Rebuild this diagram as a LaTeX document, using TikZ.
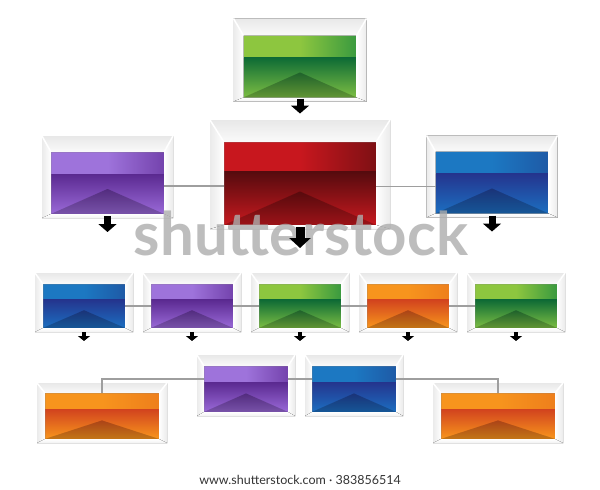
\documentclass[tikz,border=0pt]{standalone}
\usepackage{fontspec}
\newfontfamily\lato{Lato}
\usetikzlibrary{calc,arrows.meta}

\definecolor{grnL}{HTML}{8DC63F}\definecolor{grnR}{HTML}{3A9A3F}
\definecolor{grnT}{HTML}{0E6B35}\definecolor{grnB}{HTML}{7DBE43}
\definecolor{purL}{HTML}{9E73DB}\definecolor{purR}{HTML}{7443AD}
\definecolor{purT}{HTML}{5B2A91}\definecolor{purB}{HTML}{9A6AD8}
\definecolor{redL}{HTML}{C8171E}\definecolor{redR}{HTML}{7E1014}
\definecolor{redT}{HTML}{560B0E}\definecolor{redB}{HTML}{C7191F}
\definecolor{bluL}{HTML}{1C78C2}\definecolor{bluR}{HTML}{1E5AA6}
\definecolor{bluT}{HTML}{24358E}\definecolor{bluB}{HTML}{1C6FC1}
\definecolor{orgL}{HTML}{F7941D}\definecolor{orgR}{HTML}{EE7F1C}
\definecolor{orgT}{HTML}{D2441E}\definecolor{orgB}{HTML}{F8961D}

\begin{document}
\begin{tikzpicture}[x=1pt, y=-1pt,
    panel/.style={inner sep=0pt, outer sep=0pt, path picture={
      \coordinate (pa) at (path picture bounding box.north west);
      \coordinate (pb) at (path picture bounding box.south east);
      \coordinate (pm) at ($(pa|-pb)!.64!(pa)$);
      \coordinate (pc) at ($(pm)!.5!(pb)$);
      \coordinate (pt) at ($(pm-|pc)!.37!(pc|-pb)$);
      \fill[left color=#1L, right color=#1R, middle color=#1L] (pa) rectangle (pm-|pb);
      \fill[top color=#1T, bottom color=#1B] (pm) rectangle (pb);
      \fill[top color=#1T, bottom color=#1B, opacity=.3] (pa|-pb) -- (pt) -- (pb) -- cycle;
    }},
    big/.style={minimum width=152pt, minimum height=83pt},
    wide/.style={minimum width=113pt, minimum height=62pt},
    small/.style={minimum width=82pt, minimum height=44pt},
    flat/.style={minimum width=114pt, minimum height=46pt},
    tile/.style={minimum width=84pt, minimum height=46pt},
    link/.style={draw=black!38, line width=1.2pt},
    arr/.style={draw=black, line width=7pt, -{Triangle[length=8pt,width=18pt]}},
    arrbig/.style={draw=black, line width=9pt, -{Triangle[length=10pt,width=21pt]}},
    arrsmall/.style={draw=black, line width=4.5pt, -{Triangle[length=5pt,width=12pt]}}
    ]

    \useasboundingbox (0,0) rectangle (600,490);
    \fill[white] (0,0) rectangle (600,490);

    % chart boxes
    \node[panel=grn, wide] (g1) at (300,66.5) {};
    \node[panel=red, big] (r) at (300,183.5) {};
    \node[panel=pur, wide] (p1) at (107.5,183) {};
    \node[panel=blu, wide] (b1) at (492,182.5) {};
    \foreach \i/\c in {1/blu,2/pur,3/grn,4/org,5/grn}
      \node[panel=\c, small] (q\i) at ({84+108*(\i-1)},306) {};
    \node[panel=org, flat] (o1) at (102,416) {};
    \node[panel=pur, tile] (p2) at (246,389) {};
    \node[panel=blu, tile] (b2) at (354,389) {};
    \node[panel=org, flat] (o2) at (498,416) {};

    % white trays round the boxes
    \foreach \n/\s/\t in {g1/10/17, r/14/22, p1/9/16, b1/9/16, q1/8/11, q2/8/11, q3/8/11, q4/8/11, q5/8/11, o1/8/10, o2/8/10, p2/7/11, b2/7/11}{
      \fill[top color=black!9, bottom color=black!2] ($(\n.north west)+(-\s,-\t)$) -- ($(\n.north east)+(\s,-\t)$) -- (\n.north east) -- (\n.north west) -- cycle;
      \fill[left color=black!8, right color=white] ($(\n.north west)+(-\s,-\t)$) -- (\n.north west) -- (\n.south west) -- ($(\n.south west)+(-\s,4)$) -- cycle;
      \fill[right color=black!8, left color=white] ($(\n.north east)+(\s,-\t)$) -- (\n.north east) -- (\n.south east) -- ($(\n.south east)+(\s,4)$) -- cycle;
      \fill[top color=white, bottom color=black!5] (\n.south west) -- (\n.south east) -- ($(\n.south east)+(\s,4)$) -- ($(\n.south west)+(-\s,4)$) -- cycle;
      \draw[white, line width=1.5pt] ($(\n.north west)+(-\s,-\t)$) -- (\n.north west);
      \draw[white, line width=1.5pt] ($(\n.north east)+(\s,-\t)$) -- (\n.north east);
    }

    % connectors
    \draw[link] ([yshift=-3pt]p1.east) -- ([yshift=-3pt]p1.east -| r.west);
    \draw[link] ([yshift=-3pt]r.east) -- ([yshift=-3pt]r.east -| b1.west);
    \foreach \i/\j in {1/2,2/3,3/4,4/5}
      \draw[link] (q\i.east) -- (q\j.west);
    \draw[link] (o1.north) |- ([yshift=10pt]p2.west);
    \draw[link] ([yshift=10pt]p2.east) -- ([yshift=10pt]b2.west);
    \draw[link] ([yshift=10pt]b2.east) -| (o2.north);

    \node[anchor=base, text=black!32, opacity=.8, font=\lato\bfseries\fontsize{60}{60}\selectfont] (mark) at (301,255) {shutterstock};

    % arrows
    \draw[arr] ([yshift=-1pt]g1.south) -- ++(0,15);
    \draw[arrbig] ([yshift=-2pt]r.south) -- ++(0,21);
    \draw[arr] ([yshift=-2pt]p1.south) -- ++(0,16);
    \draw[arr] ([yshift=-2pt]b1.south) -- ++(0,16);
    \foreach \i in {1,...,5}
      \draw[arrsmall] ([yshift=-4pt]q\i.south) -- ++(0,9);

    \node[anchor=base, text=black!80, font=\lato\fontsize{12.5}{14}\selectfont] (credit) at (300,484) {www.shutterstock.com · 383856514};
\end{tikzpicture}
\end{document}
